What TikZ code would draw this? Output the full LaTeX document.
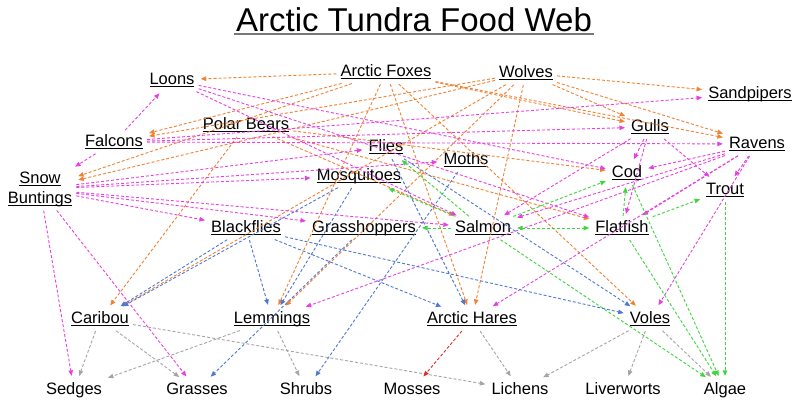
\documentclass[tikz,border=0pt]{standalone}
\usepackage{fontspec}
\setmainfont{Liberation Sans}
\usetikzlibrary{arrows.meta}
\definecolor{cor}{RGB}{240,130,50}
\definecolor{cmg}{RGB}{232,64,226}
\definecolor{cbl}{RGB}{80,120,210}
\definecolor{cgr}{RGB}{60,215,60}
\definecolor{cgy}{RGB}{165,165,165}
\definecolor{crd}{RGB}{230,40,40}
\definecolor{cul}{RGB}{120,120,120}
\newcommand\myul[1]{\setbox0\hbox{#1}\rlap{\rule[-3pt]{\wd0}{0.9pt}}\box0}
\newcommand\mytitleul[1]{\setbox0\hbox{#1}\rlap{\hskip-2pt\color{cul}\rule[-3.5pt]{\dimexpr\wd0+4pt\relax}{1.6pt}}\box0}
\tikzset{
  an/.style={font=\fontsize{16.5}{20}\selectfont, inner sep=3pt, text height=12pt, text depth=4pt},
  an2/.style={font=\fontsize{16.5}{20}\selectfont, inner sep=3pt, align=center},
  fw/.style={line width=0.9pt, dash pattern=on 3pt off 2pt, -{Triangle[length=5.5pt,width=4.5pt]}, shorten >=3pt, shorten <=1pt},
  eo/.style={fw, draw=cor},
  em/.style={fw, draw=cmg},
  eb/.style={fw, draw=cbl},
  eg/.style={fw, draw=cgr},
  ey/.style={fw, draw=cgy},
  er/.style={fw, draw=crd},
}
\begin{document}
\begin{tikzpicture}[x=1pt,y=-1pt]
\useasboundingbox[fill=white] (0,0) rectangle (800,407);
\node[font=\fontsize{33}{36}\selectfont, inner sep=0pt] (title) at (414,21) {\mytitleul{Arctic Tundra Food Web}};
% consumers
\node[an] (loons) at (172,80) {\myul{Loons}};
\node[an] (foxes) at (386,72) {\myul{Arctic Foxes}};
\node[an] (wolves) at (526,73) {\myul{Wolves}};
\node[an] (sandpipers) at (750,94) {\myul{Sandpipers}};
\node[an] (falcons) at (114,142) {\myul{Falcons}};
\node[an] (bears) at (246,125) {\myul{Polar Bears}};
\node[an] (gulls) at (650,127) {\myul{Gulls}};
\node[an] (ravens) at (757,144) {\myul{Ravens}};
\node[an] (flies) at (386,147) {\myul{Flies}};
\node[an] (moths) at (466,160) {\myul{Moths}};
\node[an] (cod) at (627,173) {\myul{Cod}};
\node[an2] (snow) at (40,189) {\myul{Snow}\\\myul{Buntings}};
\node[an] (mosq) at (359,176) {\myul{Mosquitoes}};
\node[an] (trout) at (725,190) {\myul{Trout}};
\node[an] (blackflies) at (246,228) {\myul{Blackflies}};
\node[an] (grasshoppers) at (364,228) {\myul{Grasshoppers}};
\node[an] (salmon) at (483,228) {\myul{Salmon}};
\node[an] (flatfish) at (622,228) {\myul{Flatfish}};
\node[an] (caribou) at (100,319) {\myul{Caribou}};
\node[an] (lemmings) at (272,319) {\myul{Lemmings}};
\node[an] (hares) at (472,319) {\myul{Arctic Hares}};
\node[an] (voles) at (650,319) {\myul{Voles}};
% producers
\node[an] (sedges) at (74,390) {Sedges};
\node[an] (grasses) at (197,390) {Grasses};
\node[an] (shrubs) at (306,390) {Shrubs};
\node[an] (mosses) at (412,390) {Mosses};
\node[an] (lichens) at (520,390) {Lichens};
\node[an] (liverworts) at (623,390) {Liverworts};
\node[an] (algae) at (725,390) {Algae};
% orange
\draw[eo] (foxes) -- (loons);
\draw[eo] (foxes) -- (falcons);
\draw[eo] (wolves) -- (falcons);
\draw[eo] (foxes) -- (snow);
\draw[eo] (wolves) -- (snow);
\draw[eo] (wolves) -- (sandpipers);
\draw[eo] (foxes) -- (gulls);
\draw[eo] (wolves) -- (gulls);
\draw[eo] (foxes) -- (ravens);
\draw[eo] (wolves) -- (ravens);
\draw[eo] (bears) -- (cod);
\draw[eo] (bears) -- (salmon);
\draw[eo] (bears) -- (flatfish);
\draw[eo] (bears) -- (caribou);
\draw[eo] (wolves) -- (caribou);
\draw[eo] (foxes) -- (lemmings);
\draw[eo] (wolves) -- (lemmings);
\draw[eo] (foxes) -- (hares);
\draw[eo] (wolves) -- (hares);
\draw[eo] (foxes) -- (voles);
% magenta
\draw[em] (falcons) -- (loons);
\draw[em] (falcons) -- (snow);
\draw[em] (falcons) -- (gulls);
\draw[em] (falcons) -- (ravens);
\draw[em] (falcons) -- (sandpipers);
\draw[em] (loons) -- (cod);
\draw[em] (loons) -- (salmon);
\draw[em] (loons) -- (flatfish);
\draw[em] (snow) -- (flies);
\draw[em] (snow) -- (mosq);
\draw[em] (snow) -- (moths);
\draw[em] (snow) -- (blackflies);
\draw[em] (snow) -- (grasshoppers);
\draw[em] (snow) -- (salmon);
\draw[em] (snow) -- (sedges);
\draw[em] (snow) -- (grasses);
\draw[em] (gulls) -- (cod);
\draw[em] (gulls) -- (flatfish);
\draw[em] (gulls) -- (trout);
\draw[em] (gulls) -- (salmon);
\draw[em] (ravens) -- (cod);
\draw[em] (ravens) -- (salmon);
\draw[em] (ravens) -- (flatfish);
\draw[em] (ravens) -- (trout);
\draw[em] (ravens) -- (lemmings);
\draw[em] (ravens) -- (hares);
\draw[em] (ravens) -- (voles);
% blue
\draw[eb] (blackflies) -- (caribou);
\draw[eb] (mosq) -- (caribou);
\draw[eb] (blackflies) -- (lemmings);
\draw[eb] (mosq) -- (lemmings);
\draw[eb] (blackflies) -- (hares);
\draw[eb] (flies) -- (hares);
\draw[eb] (blackflies) -- (voles);
\draw[eb] (flies) -- (voles);
\draw[eb] (moths) -- (shrubs);
\draw[eb] (grasshoppers) -- (grasses);
% green
\draw[eg] (salmon) -- (flies);
\draw[eg] (salmon) -- (mosq);
\draw[eg] (salmon) -- (grasshoppers);
\draw[eg, {Triangle[length=5.5pt,width=4.5pt]}-{Triangle[length=5.5pt,width=4.5pt]}, shorten <=3pt] (salmon) -- (flatfish);
\draw[eg] (salmon) -- (cod);
\draw[eg] (flatfish) -- (cod);
\draw[eg] (flatfish) -- (trout);
\draw[eg] (salmon) -- (algae);
\draw[eg] (flatfish) -- (algae);
\draw[eg] (cod) -- (algae);
\draw[eg] (trout) -- (algae);
% gray and red
\draw[ey] (caribou) -- (sedges);
\draw[ey] (caribou) -- (grasses);
\draw[ey] (caribou) -- (lichens);
\draw[ey] (lemmings) -- (sedges);
\draw[ey] (lemmings) -- (shrubs);
\draw[ey] (hares) -- (lichens);
\draw[ey] (voles) -- (lichens);
\draw[ey] (voles) -- (liverworts);
\draw[ey] (voles) -- (algae);
\draw[er] (hares) -- (mosses);
\end{tikzpicture}
\end{document}
